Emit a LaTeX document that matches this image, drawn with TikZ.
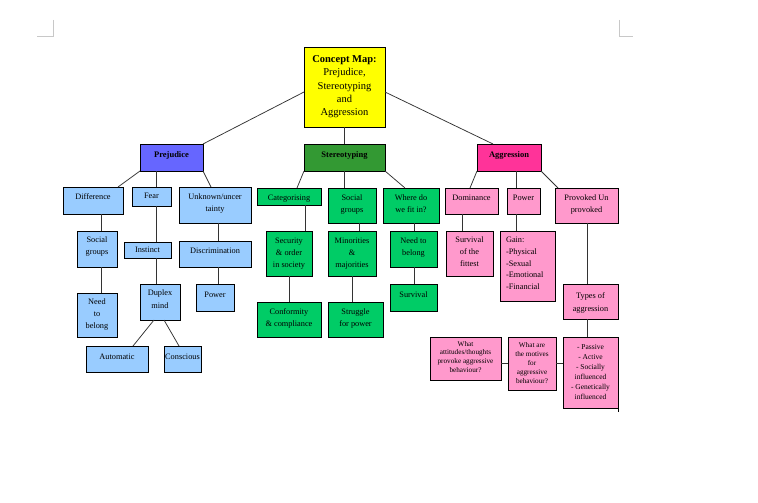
\documentclass[tikz,border=0pt]{standalone}
\usepackage{fontspec}
\setmainfont{Liberation Serif}
\usetikzlibrary{calc}
\definecolor{cyel}{HTML}{FFFF00}
\definecolor{cprej}{HTML}{6666FF}
\definecolor{cster}{HTML}{339933}
\definecolor{caggr}{HTML}{FF3399}
\definecolor{cblue}{HTML}{99CCFF}
\definecolor{cgreen}{HTML}{00CC66}
\definecolor{cpink}{HTML}{FF99CC}
\definecolor{cmarkc}{HTML}{C8C8C8}
\newcommand\bx[8]{\node[box,#1] (#2) at (#3,#4) {\begin{minipage}[c][\dimexpr#6bp-#4bp\relax][t]{\dimexpr#5bp-#3bp\relax}#7#8\end{minipage}};}
\newcommand\reg[1]{\centering\fontsize{8.3bp}{12bp}\selectfont\rule{0pt}{#1bp}}
\newcommand\hdr{\centering\fontsize{8.5bp}{10bp}\selectfont\bfseries\rule{0pt}{13.5bp}}
\newcommand\cmf{\centering\fontsize{10.5bp}{13.3bp}\selectfont\rule{0pt}{15.5bp}}
\newcommand\sml[2]{\centering\fontsize{7.2bp}{#2bp}\selectfont\rule{0pt}{#1bp}}
\newcommand\gainf{\raggedright\leftskip=6bp\fontsize{8.3bp}{11.8bp}\selectfont\rule{0pt}{11.5bp}}
\newcommand\vc[3]{\draw[conn] ([xshift=#2bp]#1) -- ([xshift=#2bp]#1 |- #3);}
\begin{document}
\begin{tikzpicture}[x=1bp,y=-1bp,
  box/.style={draw=black,line width=0.8bp,inner sep=0pt,outer sep=0pt,anchor=north west},
  conn/.style={draw=black!80,line width=0.75bp},
  cornermark/.style={draw=cmarkc,line width=1bp}]
\fill[white] (0,0) rectangle (758,503);
\useasboundingbox (0,0) rectangle (758,503);
% page corner marks
\draw[cornermark] (53,20) -- (53,37) -- (37,37);
\draw[cornermark] (619,20) -- (619,37) -- (633,37);
% top
\bx{fill=cyel}{cm}{304}{47}{385}{127}{\cmf}{\textbf{Concept Map:}\\Prejudice,\\Stereotyping\\and\\Aggression}
\bx{fill=cprej}{prej}{140}{144}{203}{171}{\hdr}{Prejudice}
\bx{fill=cster}{ster}{304}{144}{385}{171}{\hdr}{Stereotyping}
\bx{fill=caggr}{aggr}{477}{144}{541}{171}{\hdr}{Aggression}
% left (prejudice)
\bx{fill=cblue}{diff}{63}{187}{123}{214}{\reg{13}}{Difference}
\bx{fill=cblue}{fear}{132}{187}{171}{206}{\reg{12}}{Fear}
\bx{fill=cblue}{unk}{179}{187}{251}{223}{\reg{12.5}}{Unknown/uncer\\tainty}
\bx{fill=cblue}{soc}{77}{231}{117}{267}{\reg{12}}{Social\\groups}
\bx{fill=cblue}{inst}{124}{242}{171}{258}{\reg{11}}{Instinct}
\bx{fill=cblue}{disc}{179}{241}{251}{267}{\reg{13}}{Discrimination}
\bx{fill=cblue}{needa}{77}{293}{117}{337}{\reg{11.5}}{Need\\to\\belong}
\bx{fill=cblue}{dup}{140}{284}{180}{320}{\reg{12}}{Duplex\\mind}
\bx{fill=cblue}{powa}{196}{284}{234}{311}{\reg{13.5}}{Power}
\bx{fill=cblue}{auto}{86}{346}{148}{372}{\reg{13}}{Automatic}
\bx{fill=cblue}{cons}{164}{346}{201}{372}{\reg{13}}{Conscious}
% middle (stereotyping)
\bx{fill=cgreen}{cat}{257}{188}{321}{205}{\reg{12.5}}{Categorising}
\bx{fill=cgreen}{socb}{328}{188}{376}{223}{\reg{12.5}}{Social\\groups}
\bx{fill=cgreen}{where}{383}{188}{439}{223}{\reg{12.5}}{Where do\\we fit in?}
\bx{fill=cgreen}{sec}{266}{231}{312}{276}{\reg{12.5}}{Security\\\& order\\in society}
\bx{fill=cgreen}{min}{328}{231}{376}{276}{\reg{12.5}}{Minorities\\\&\\majorities}
\bx{fill=cgreen}{needb}{390}{231}{437}{267}{\reg{12.5}}{Need to\\belong}
\bx{fill=cgreen}{surv}{390}{284}{437}{311}{\reg{13.5}}{Survival}
\bx{fill=cgreen}{conf}{257}{302}{321}{337}{\reg{12.5}}{Conformity\\\& compliance}
\bx{fill=cgreen}{strug}{328}{302}{383}{337}{\reg{12.5}}{Struggle\\for power}
% right (aggression)
\bx{fill=cpink}{dom}{445}{188}{498}{214}{\reg{12.5}}{Dominance}
\bx{fill=cpink}{powb}{507}{188}{540}{214}{\reg{12.5}}{Power}
\bx{fill=cpink}{prov}{555}{188}{618}{223}{\reg{12.5}}{Provoked Un\\provoked}
\bx{fill=cpink}{fit}{446}{231}{493}{276}{\reg{12}}{Survival\\of the\\fittest}
\bx{fill=cpink}{gain}{500}{231}{555}{301}{\gainf}{Gain:\\-Physical\\-Sexual\\-Emotional\\-Financial}
\bx{fill=cpink}{types}{563}{284}{618}{319}{\reg{15}}{Types of\\aggression}
\bx{fill=cpink}{att}{430}{337}{501}{380}{\sml{9}{8.8}}{What\\attitudes/thoughts\\provoke aggressive\\behaviour?}
\bx{fill=cpink}{mot}{508}{337}{556}{390}{\sml{10}{9}}{What are\\the motives\\for\\aggressive\\behaviour?}
\bx{fill=cpink}{pas}{563}{337}{618}{408}{\centering\fontsize{7.5bp}{10bp}\selectfont\rule{0pt}{12.5bp}}{- Passive\\- Active\\- Socially\\influenced\\- Genetically\\influenced}
% connectors from the title
\draw[conn] ([yshift=-5bp]cm.west) -- (prej.north east);
\draw[conn] (cm.south) -- (cm.south |- ster.north);
\draw[conn] ([yshift=-5bp]cm.east) -- ([xshift=16bp]aggr.north west);
% prejudice branch
\draw[conn] (prej.south west) -- ([xshift=55bp]diff.north west);
\vc{prej.south west}{16}{fear.north}
\draw[conn] (prej.south east) -- ([xshift=32bp]unk.north west);
\vc{diff.south west}{38}{soc.north}
\vc{soc.south west}{24}{needa.north}
\vc{fear.south west}{24}{inst.north}
\vc{inst.south west}{32}{dup.north}
\vc{unk.south west}{39}{disc.north}
\vc{disc.south west}{39}{powa.north}
\draw[conn] ([xshift=14bp]dup.south west) -- ([xshift=47bp]auto.north west);
\draw[conn] ([xshift=24bp]dup.south west) -- ([xshift=15bp]cons.north west);
% stereotyping branch
\draw[conn] (ster.south west) -- ([xshift=40bp]cat.north west);
\draw[conn] (ster.south) -- (ster.south |- socb.north);
\draw[conn] (ster.south east) -- ([xshift=22bp]where.north west);
\vc{cat.south west}{48}{sec.north}
\draw[conn] (sec.south) -- (sec.south |- conf.north);
\vc{socb.south west}{31}{min.north}
\vc{min.south west}{24}{strug.north}
\vc{where.south west}{31}{needb.north}
\vc{needb.south west}{24}{surv.north}
% aggression branch
\draw[conn] (aggr.south west) -- ([xshift=25bp]dom.north west);
\vc{aggr.south west}{39}{powb.north}
\draw[conn] (aggr.south east) -- ([xshift=3bp]prov.north west);
\vc{dom.south west}{17}{fit.north}
\vc{powb.south west}{9}{gain.north}
\vc{prov.south west}{32}{types.north}
\vc{types.south west}{24}{pas.north}
\draw[conn] (mot.west) -- (mot.west -| att.east);
\draw[conn] (mot.east) -- (mot.east -| pas.west);
\draw[line width=1bp] (pas.south east) -- ([yshift=-4bp]pas.south east);
\end{tikzpicture}
\end{document}
